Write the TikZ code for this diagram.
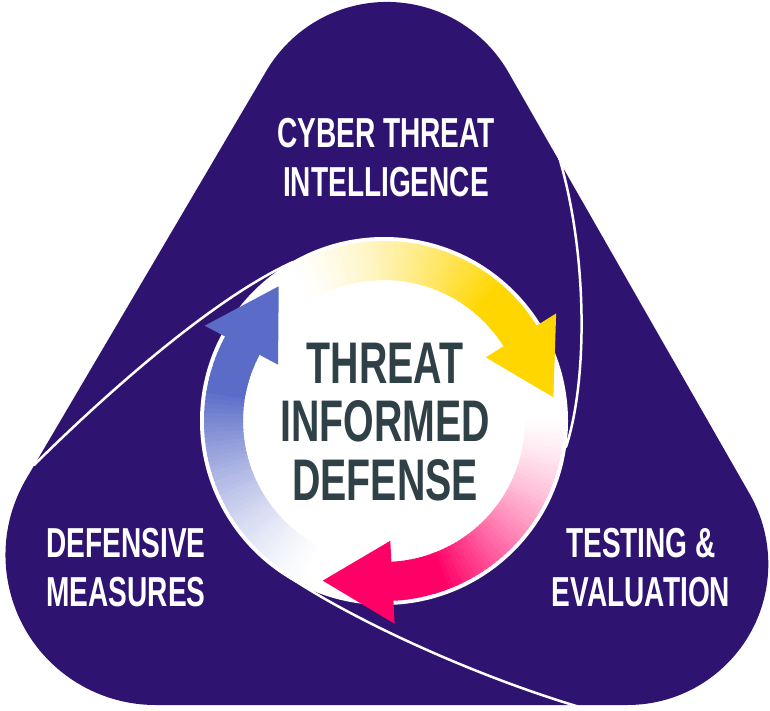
\documentclass[tikz,border=0pt]{standalone}
\usepackage{fontspec}
\newfontfamily\tidfont[FakeStretch=0.67]{Liberation Sans}
\definecolor{tidpurple}{RGB}{47,19,112}
\definecolor{tidyellow}{RGB}{255,214,0}
\definecolor{tidpink}{RGB}{255,0,102}
\definecolor{tidblue}{RGB}{90,108,200}
\definecolor{tidtext}{RGB}{47,64,70}
\begin{document}
\begin{tikzpicture}[x=1pt,y=1pt,
    sidetext/.style={text=white,align=center,inner sep=0pt,
      font=\tidfont\bfseries\fontsize{41.9}{49}\selectfont},
    centertext/.style={text=tidtext,align=center,inner sep=0pt,
      font=\tidfont\bfseries\fontsize{58.7}{58.5}\selectfont},
    divider/.style={white,line width=2.5pt,line cap=round}]
        \useasboundingbox (0,0) rectangle (770,710);
        \fill [white] (0,0) rectangle (770,710);%

        % Rounded triangle
        \fill [tidpurple] (26.25,231.13) arc [start angle=149.5, end angle=270, radius=150]%
          -- (627.30,5.00) arc [start angle=-90, end angle=29.7, radius=141]%
          -- (508.60,637.40) arc [start angle=29.7, end angle=149.5, radius=140]%
          -- cycle;%

        % Dividing lines
        \draw [divider] (557.50,558.00) .. controls (588.00,460.00) and (588.00,330.00) .. (566.00,263.00);%
        \draw [divider] (34.00,245.00) .. controls (120.00,330.00) and (220.00,415.00) .. (293.00,448.00);%
        \draw [divider] (270.00,147.00) .. controls (330.00,100.00) and (470.00,35.00) .. (583.00,2.00);%

        % White disk
        \coordinate (ringc) at (384.00,289.00);
        \fill [white] (ringc) circle [radius=184];%

        \begin{scope}[shift={(ringc)}]
        % Drawing arrow to testing (yellow)
        \foreach \i in {0,...,59} {%
          \pgfmathsetmacro{\angfrom}{125-93*\i/60}%
          \pgfmathsetmacro{\angto}{125-93*(\i+1)/60-0.6}%
          \pgfmathtruncatemacro{\pct}{min(100,100*(\i/48)*sqrt(\i/48))}%
          \fill [tidyellow!\pct!white] (\angfrom:141) arc [start angle=\angfrom, end angle=\angto, radius=141]%
            -- (\angto:180) arc [start angle=\angto, end angle=\angfrom, radius=180] -- cycle;%
        }
        \fill [tidyellow] (32:120) -- (32:203) -- (8:171) -- cycle;%

        % Drawing arrow to measures (pink)
        \foreach \i in {0,...,59} {%
          \pgfmathsetmacro{\angfrom}{5-92*\i/60}%
          \pgfmathsetmacro{\angto}{5-92*(\i+1)/60-0.6}%
          \pgfmathtruncatemacro{\pct}{min(100,100*(\i/48)*sqrt(\i/48))}%
          \fill [tidpink!\pct!white] (\angfrom:141) arc [start angle=\angfrom, end angle=\angto, radius=141]%
            -- (\angto:180) arc [start angle=\angto, end angle=\angfrom, radius=180] -- cycle;%
        }
        \fill [tidpink] (-87:120) -- (-87:203) -- (-111:171) -- cycle;%

        % Drawing arrow to intelligence (blue)
        \foreach \i in {0,...,59} {%
          \pgfmathsetmacro{\angfrom}{-113-95*\i/60}%
          \pgfmathsetmacro{\angto}{-113-95*(\i+1)/60-0.6}%
          \pgfmathtruncatemacro{\pct}{min(100,100*(\i/48)*sqrt(\i/48))}%
          \fill [tidblue!\pct!white] (\angfrom:141) arc [start angle=\angfrom, end angle=\angto, radius=141]%
            -- (\angto:180) arc [start angle=\angto, end angle=\angfrom, radius=180] -- cycle;%
        }
        \fill [tidblue] (152:120) -- (152:203) -- (128:171) -- cycle;%
        \end{scope}

        % Labels
        \node [centertext] (tid) at (385.00,288.00) {THREAT\\INFORMED\\DEFENSE};%
        \node [sidetext] (cti) at (386.00,552.50) {CYBER THREAT\\INTELLIGENCE};%
        \node [sidetext] (dm) at (126.00,142.50) {DEFENSIVE\\MEASURES};%
        \node [sidetext] (te) at (641.00,142.50) {TESTING \&\\EVALUATION};%
    \end{tikzpicture}
\end{document}
